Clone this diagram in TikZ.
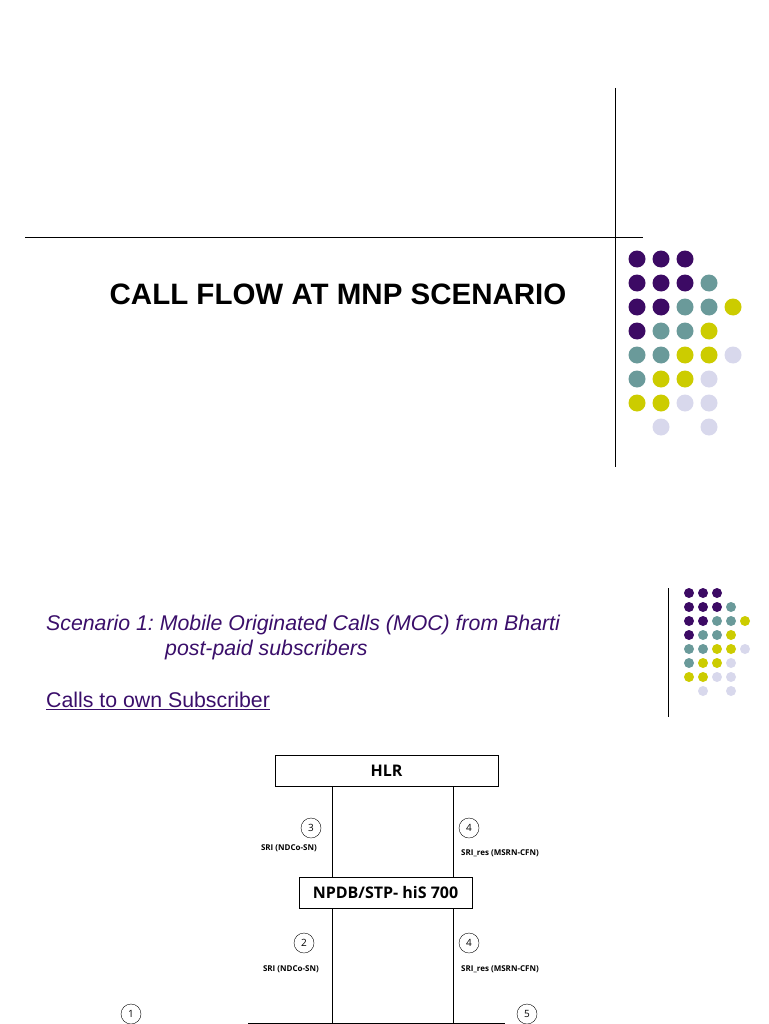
\documentclass[tikz,border=0pt]{standalone}
\usepackage{fontspec}
\setmainfont{Liberation Sans}
\newfontfamily\boxfont{Open Sans}
\usetikzlibrary{positioning}
\frenchspacing
\definecolor{dotP}{HTML}{3C0A64}
\definecolor{dotT}{HTML}{6A9A9A}
\definecolor{dotY}{HTML}{CCCC00}
\definecolor{dotL}{HTML}{D8D8EC}
\definecolor{txtP}{HTML}{3A0E6A}
\tikzset{
  entity/.style={draw, thick, fill=white, font=\boxfont\bfseries\fontsize{16}{19}\selectfont, inner sep=0pt},
  stepno/.style={draw, circle, inner sep=0pt, minimum size=20pt, font=\boxfont\fontsize{10}{12}\selectfont},
  msg/.style={font=\boxfont\bfseries\fontsize{8}{9}\selectfont, inner sep=1pt},
}
\begin{document}
\begin{tikzpicture}[x=1pt,y=-1pt]
\useasboundingbox (0,0) rectangle (768,1024);
% frame lines
\draw[thick] (615,88) -- (615,467);
\draw[thick] (25,237) -- (643,237);
\draw (668,588) -- (668,717);
% dots, big set
\foreach \r/\row in {0/{P,P,P,-,-},1/{P,P,P,T,-},2/{P,P,T,T,Y},3/{P,T,T,Y,-},4/{T,T,Y,Y,L},5/{T,Y,Y,L,-},6/{Y,Y,L,L,-},7/{-,L,-,L,-}}{
  \foreach \c [count=\i from 0] in \row {
    \if\c-\else
      \fill[dot\c] (637+24*\i,259+24*\r) circle (8.5);
      \fill[dot\c] (689+14*\i,593+14*\r) circle (5);
    \fi
  }
}
% texts
\node[font=\bfseries\fontsize{29.5}{34}\selectfont] (title) at (338,294) {CALL FLOW AT MNP SCENARIO};
\node[anchor=west, text=txtP, font=\itshape\fontsize{21.3}{25}\selectfont, inner sep=0pt] (scen) at (46,625) {Scenario 1: Mobile Originated Calls (MOC) from Bharti};
\node[anchor=west, text=txtP, font=\itshape\fontsize{21.3}{25}\selectfont, inner sep=0pt] (scen2) at (165,650) {post-paid subscribers};
\node[anchor=west, text=txtP, font=\fontsize{21.3}{25}\selectfont, inner sep=0pt] (own) at (46,701) {\underline{Calls to own Subscriber}};
% diagram
\node[entity, minimum width=223pt, minimum height=31pt] (hlr) at (386.5,770.5) {HLR};
\node[entity, minimum width=173pt, minimum height=31pt] (npdb) at (385.5,892.5) {NPDB/STP- hiS 700};
\coordinate (bl) at (248,1023);
\coordinate (br) at (505,1023);
\draw (bl) -- (br);
\draw (hlr.south -| 332,0) -- (npdb.north -| 332,0);
\draw (hlr.south -| 453,0) -- (npdb.north -| 453,0);
\draw (npdb.south -| 332,0) -- (332,1023);
\draw (npdb.south -| 453,0) -- (453,1023);
\node[stepno] (s3) at (311,828) {3};
\node[stepno] (s4a) at (469,828) {4};
\node[stepno] (s2) at (304,943) {2};
\node[stepno] (s4b) at (469,943) {4};
\node[stepno] (s1) at (131,1014) {1};
\node[stepno] (s5) at (527,1014) {5};
\node[msg, anchor=east] (m3) at (318,848) {SRI (NDCo-SN)};
\node[msg, anchor=west] (m4a) at (460,853) {SRI\_res (MSRN-CFN)};
\node[msg, anchor=east] (m2) at (320,969) {SRI (NDCo-SN)};
\node[msg, anchor=west] (m4b) at (460,969) {SRI\_res (MSRN-CFN)};
\end{tikzpicture}
\end{document}
